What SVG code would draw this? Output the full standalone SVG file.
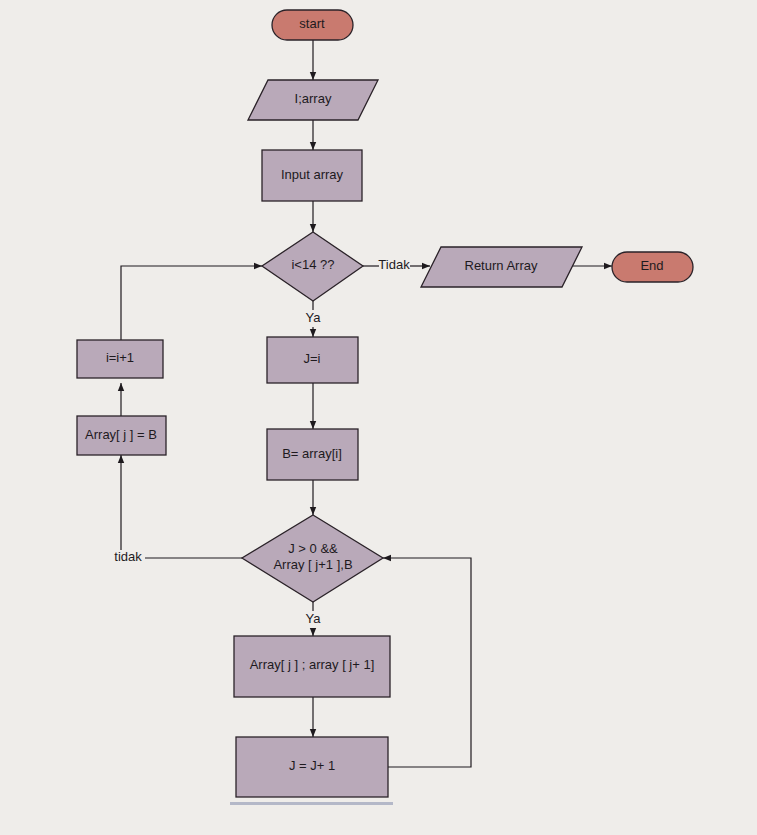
<svg xmlns="http://www.w3.org/2000/svg" width="757" height="835" viewBox="0 0 757 835">
<style>
.n{fill:#b9a9b9;stroke:#2a2228;stroke-width:1.3}
.t{fill:#c97a6f;stroke:#2a2228;stroke-width:1.3}
text{font-family:"Liberation Sans",Arial,sans-serif;font-size:13px;fill:#1e1a1e;text-anchor:middle;dominant-baseline:middle}
.c{fill:none;stroke:#1e1a1e;stroke-width:1.2}
</style>
<defs><marker id="a" viewBox="0 0 10 10" refX="10" refY="5" markerWidth="7" markerHeight="7" orient="auto"><path d="M0,1L10,5L0,9z" fill="#1e1a1e"/></marker></defs>
<rect width="757" height="835" fill="#efedea"/>
<g id="connectors" class="c">
<path d="M313,40V80" marker-end="url(#a)"/>
<path d="M313,120V150" marker-end="url(#a)"/>
<path d="M313,201V232" marker-end="url(#a)"/>
<path d="M363,266H379"/><path d="M410,266H430" marker-end="url(#a)"/>
<path d="M572,266H612" marker-end="url(#a)"/>
<path d="M313,301V310"/><path d="M313,327V337" marker-end="url(#a)"/>
<path d="M313,383V429" marker-end="url(#a)"/>
<path d="M313,480V515" marker-end="url(#a)"/>
<path d="M313,602V611"/><path d="M313,628V636" marker-end="url(#a)"/>
<path d="M313,697V737" marker-end="url(#a)"/>
<path d="M388,767H471V558H383" marker-end="url(#a)"/>
<path d="M242,558H145"/>
<path d="M121,550V455" marker-end="url(#a)"/>
<path d="M121,416V383" marker-end="url(#a)"/>
<path d="M121,340V266H262" marker-end="url(#a)"/>
</g>
<g id="start"><rect class="t" x="272" y="10" width="81" height="30" rx="15"/><text x="312" y="25" font-size="15">start</text></g>
<g id="input1"><polygon class="n" points="268,80 378,80 358,120 248,120"/><text x="313" y="100">I;array</text></g>
<g id="input2"><rect class="n" x="262" y="150" width="100" height="51"/><text x="312" y="176">Input array</text></g>
<g id="dec1"><polygon class="n" points="313,232 363,266 313,301 262,266"/><text x="313" y="266">i&lt;14 ??</text></g>
<text x="394" y="266">Tidak</text>
<g id="ret"><polygon class="n" points="441,247 582,247 562,287 421,287"/><text x="501" y="267">Return Array</text></g>
<g id="end"><rect class="t" x="612" y="252" width="81" height="30" rx="15"/><text x="652" y="267">End</text></g>
<text x="313" y="319">Ya</text>
<g id="ji"><rect class="n" x="267" y="337" width="91" height="46"/><text x="312" y="360">J=i</text></g>
<g id="b"><rect class="n" x="267" y="429" width="91" height="51"/><text x="312" y="455">B= array[i]</text></g>
<g id="dec2"><polygon class="n" points="313,515 383,558 313,602 242,558"/><text x="313" y="550">J &gt; 0 &amp;&amp;</text><text x="313" y="566">Array [ j+1 ],B</text></g>
<text x="313" y="620">Ya</text>
<text x="128" y="558">tidak</text>
<g id="swap"><rect class="n" x="234" y="636" width="156" height="61"/><text x="312" y="666">Array[ j ] ; array [ j+ 1]</text></g>
<g id="jinc"><rect class="n" x="236" y="737" width="152" height="60"/><text x="312" y="767">J = J+ 1</text></g>
<rect x="230" y="802" width="163" height="3" fill="#b4b8c8"/>
<g id="assign"><rect class="n" x="77" y="416" width="89" height="39"/><text x="121" y="436">Array[ j ] = B</text></g>
<g id="iinc"><rect class="n" x="77" y="340" width="86" height="38"/><text x="120" y="359">i=i+1</text></g>
</svg>
